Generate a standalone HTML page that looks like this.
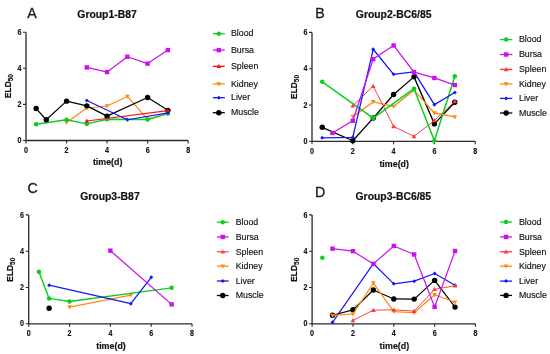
<!DOCTYPE html>
<html><head><meta charset="utf-8"><style>
html,body{margin:0;padding:0;background:#fff;}
body{width:550px;height:354px;overflow:hidden;}
svg{display:block;will-change:transform;}
text{font-family:"Liberation Sans",sans-serif;}
.tk{font-size:8.3px;font-weight:bold;fill:#111;stroke:#111;stroke-width:0.15px;}
.xl{font-size:8.9px;font-weight:bold;fill:#111;stroke:#111;stroke-width:0.15px;}
.yl{font-size:8.4px;font-weight:bold;fill:#111;stroke:#111;stroke-width:0.15px;}
.sub{font-size:6.6px;}
.let{font-size:14.2px;fill:#1a1a1a;stroke:#1a1a1a;stroke-width:0.3px;}
.tt{font-size:10.4px;font-weight:bold;fill:#111;stroke:#111;stroke-width:0.2px;}
.lg{font-size:8.8px;fill:#111;stroke:#111;stroke-width:0.15px;}
</style></head><body>
<svg width="550" height="354" viewBox="0 0 550 354">
<rect width="550" height="354" fill="#fff"/>
<g>
<path d="M26 32.2V140.5H188.16" fill="none" stroke="#2a2a2a" stroke-width="1.3"/>
<path d="M23 140.5H26M23 104.4H26M23 68.3H26M23 32.2H26M26 140.5V143.5M66.54 140.5V143.5M107.08 140.5V143.5M147.62 140.5V143.5M188.16 140.5V143.5" stroke="#2a2a2a" stroke-width="1.1"/>
<text transform="translate(21.4 143.1) scale(0.86 1)" class="tk" text-anchor="end">0</text>
<text transform="translate(21.4 107) scale(0.86 1)" class="tk" text-anchor="end">2</text>
<text transform="translate(21.4 70.9) scale(0.86 1)" class="tk" text-anchor="end">4</text>
<text transform="translate(21.4 34.8) scale(0.86 1)" class="tk" text-anchor="end">6</text>
<text transform="translate(26 152.7) scale(0.86 1)" class="tk" text-anchor="middle">0</text>
<text transform="translate(66.54 152.7) scale(0.86 1)" class="tk" text-anchor="middle">2</text>
<text transform="translate(107.08 152.7) scale(0.86 1)" class="tk" text-anchor="middle">4</text>
<text transform="translate(147.62 152.7) scale(0.86 1)" class="tk" text-anchor="middle">6</text>
<text transform="translate(188.16 152.7) scale(0.86 1)" class="tk" text-anchor="middle">8</text>
<text x="107.68" y="165.3" class="xl" text-anchor="middle">time(d)</text>
<text transform="translate(11 86) rotate(-90)" class="yl" text-anchor="middle">ELD<tspan class="sub" dy="2.2">50</tspan></text>
<text x="27.2" y="18.2" class="let">A</text>
<text x="77.3" y="18" class="tt">Group1-B87</text>
<path d="M66.54 122.45L86.81 108.01L107.08 106.02L127.35 96.46L147.62 119.38L167.89 113.42" fill="none" stroke="#ff8a10" stroke-width="1.2" stroke-linejoin="round"/>
<path d="M66.54 124.85L68.94 120.65L64.14 120.65Z" fill="#ff8a10"/>
<path d="M86.81 110.41L89.21 106.21L84.41 106.21Z" fill="#ff8a10"/>
<path d="M107.08 108.42L109.48 104.22L104.68 104.22Z" fill="#ff8a10"/>
<path d="M127.35 98.86L129.75 94.66L124.95 94.66Z" fill="#ff8a10"/>
<path d="M147.62 121.78L150.02 117.58L145.22 117.58Z" fill="#ff8a10"/>
<path d="M167.89 115.83L170.29 111.62L165.49 111.62Z" fill="#ff8a10"/>
<path d="M36.13 124.25L66.54 119.74L86.81 123.89L107.08 119.2L147.62 119.56L167.89 113.61" fill="none" stroke="#10cc20" stroke-width="1.45" stroke-linejoin="round"/>
<circle cx="36.13" cy="124.25" r="2.25" fill="#10cc20"/>
<circle cx="66.54" cy="119.74" r="2.25" fill="#10cc20"/>
<circle cx="86.81" cy="123.89" r="2.25" fill="#10cc20"/>
<circle cx="107.08" cy="119.2" r="2.25" fill="#10cc20"/>
<circle cx="147.62" cy="119.56" r="2.25" fill="#10cc20"/>
<circle cx="167.89" cy="113.61" r="2.25" fill="#10cc20"/>
<path d="M36.13 108.55L46.27 119.74L66.54 101.15L86.81 105.84L107.08 116.13L147.62 97.54L167.89 110.36" fill="none" stroke="#000000" stroke-width="1.2" stroke-linejoin="round"/>
<circle cx="36.13" cy="108.55" r="2.7" fill="#000000"/>
<circle cx="46.27" cy="119.74" r="2.7" fill="#000000"/>
<circle cx="66.54" cy="101.15" r="2.7" fill="#000000"/>
<circle cx="86.81" cy="105.84" r="2.7" fill="#000000"/>
<circle cx="107.08" cy="116.13" r="2.7" fill="#000000"/>
<circle cx="147.62" cy="97.54" r="2.7" fill="#000000"/>
<circle cx="167.89" cy="110.36" r="2.7" fill="#000000"/>
<path d="M86.81 121.01L167.89 110.72" fill="none" stroke="#ff1010" stroke-width="1.2" stroke-linejoin="round"/>
<path d="M86.81 118.61L89.21 122.81L84.41 122.81Z" fill="#ff1010"/>
<path d="M167.89 108.32L170.29 112.52L165.49 112.52Z" fill="#ff1010"/>
<path d="M86.81 100.43L127.35 119.74L167.89 112.88" fill="none" stroke="#1818f0" stroke-width="1.2" stroke-linejoin="round"/>
<path d="M86.81 98.43L88.81 100.43L86.81 102.43L84.81 100.43Z" fill="#1818f0"/>
<path d="M127.35 117.74L129.35 119.74L127.35 121.74L125.35 119.74Z" fill="#1818f0"/>
<path d="M167.89 110.88L169.89 112.88L167.89 114.88L165.89 112.88Z" fill="#1818f0"/>
<path d="M86.81 67.4L107.08 72.09L127.35 56.75L147.62 63.61L167.89 50.07" fill="none" stroke="#cc10ee" stroke-width="1.2" stroke-linejoin="round"/>
<rect x="84.61" y="65.2" width="4.4" height="4.4" fill="#cc10ee"/>
<rect x="104.88" y="69.89" width="4.4" height="4.4" fill="#cc10ee"/>
<rect x="125.15" y="54.55" width="4.4" height="4.4" fill="#cc10ee"/>
<rect x="145.42" y="61.41" width="4.4" height="4.4" fill="#cc10ee"/>
<rect x="165.69" y="47.87" width="4.4" height="4.4" fill="#cc10ee"/>
<path d="M212.8 33.75H224.8" stroke="#10cc20" stroke-width="1.3"/>
<circle cx="218.8" cy="33.75" r="2.25" fill="#10cc20"/>
<text x="231" y="36.45" class="lg">Blood</text>
<path d="M212.8 50.1H224.8" stroke="#cc10ee" stroke-width="1.3"/>
<rect x="216.6" y="47.9" width="4.4" height="4.4" fill="#cc10ee"/>
<text x="231" y="52.8" class="lg">Bursa</text>
<path d="M212.8 66.3H224.8" stroke="#ff1010" stroke-width="1.3"/>
<path d="M218.8 63.9L221.2 68.1L216.4 68.1Z" fill="#ff1010"/>
<text x="231" y="69" class="lg">Spleen</text>
<path d="M212.8 84H224.8" stroke="#ff8a10" stroke-width="1.3"/>
<path d="M218.8 86.4L221.2 82.2L216.4 82.2Z" fill="#ff8a10"/>
<text x="231" y="86.7" class="lg">Kidney</text>
<path d="M212.8 97.7H224.8" stroke="#1818f0" stroke-width="1.3"/>
<path d="M218.8 95.7L220.8 97.7L218.8 99.7L216.8 97.7Z" fill="#1818f0"/>
<text x="231" y="100.4" class="lg">Liver</text>
<path d="M212.8 112.7H224.8" stroke="#000000" stroke-width="1.3"/>
<circle cx="218.8" cy="112.7" r="2.7" fill="#000000"/>
<text x="231" y="115.4" class="lg">Muscle</text>
<path d="M312 32.4V141.3H475.2" fill="none" stroke="#2a2a2a" stroke-width="1.3"/>
<path d="M309 141.3H312M309 105H312M309 68.7H312M309 32.4H312M312 141.3V144.3M352.8 141.3V144.3M393.6 141.3V144.3M434.4 141.3V144.3M475.2 141.3V144.3" stroke="#2a2a2a" stroke-width="1.1"/>
<text transform="translate(307.4 143.9) scale(0.86 1)" class="tk" text-anchor="end">0</text>
<text transform="translate(307.4 107.6) scale(0.86 1)" class="tk" text-anchor="end">2</text>
<text transform="translate(307.4 71.3) scale(0.86 1)" class="tk" text-anchor="end">4</text>
<text transform="translate(307.4 35) scale(0.86 1)" class="tk" text-anchor="end">6</text>
<text transform="translate(312 153.5) scale(0.86 1)" class="tk" text-anchor="middle">0</text>
<text transform="translate(352.8 153.5) scale(0.86 1)" class="tk" text-anchor="middle">2</text>
<text transform="translate(393.6 153.5) scale(0.86 1)" class="tk" text-anchor="middle">4</text>
<text transform="translate(434.4 153.5) scale(0.86 1)" class="tk" text-anchor="middle">6</text>
<text transform="translate(475.2 153.5) scale(0.86 1)" class="tk" text-anchor="middle">8</text>
<text x="394.2" y="166.7" class="xl" text-anchor="middle">time(d)</text>
<text transform="translate(296.9 86.9) rotate(-90)" class="yl" text-anchor="middle">ELD<tspan class="sub" dy="2.2">50</tspan></text>
<text x="315.2" y="18" class="let">B</text>
<text x="355.8" y="17.8" class="tt">Group2-BC6/85</text>
<path d="M322.2 127.32L352.8 140.76L373.2 118.07L393.6 94.47L414 76.87L434.4 123.88L454.8 102.28" fill="none" stroke="#000000" stroke-width="1.3" stroke-linejoin="round"/>
<circle cx="322.2" cy="127.32" r="2.7" fill="#000000"/>
<circle cx="352.8" cy="140.76" r="2.7" fill="#000000"/>
<circle cx="373.2" cy="118.07" r="2.7" fill="#000000"/>
<circle cx="393.6" cy="94.47" r="2.7" fill="#000000"/>
<circle cx="414" cy="76.87" r="2.7" fill="#000000"/>
<circle cx="434.4" cy="123.88" r="2.7" fill="#000000"/>
<circle cx="454.8" cy="102.28" r="2.7" fill="#000000"/>
<path d="M352.8 116.62L373.2 101.91L393.6 106.45L414 90.12L434.4 112.99L454.8 116.98" fill="none" stroke="#ff8a10" stroke-width="1.3" stroke-linejoin="round"/>
<path d="M352.8 119.02L355.2 114.82L350.4 114.82Z" fill="#ff8a10"/>
<path d="M373.2 104.31L375.6 100.11L370.8 100.11Z" fill="#ff8a10"/>
<path d="M393.6 108.85L396 104.65L391.2 104.65Z" fill="#ff8a10"/>
<path d="M414 92.52L416.4 88.32L411.6 88.32Z" fill="#ff8a10"/>
<path d="M434.4 115.39L436.8 111.19L432 111.19Z" fill="#ff8a10"/>
<path d="M454.8 119.38L457.2 115.18L452.4 115.18Z" fill="#ff8a10"/>
<path d="M352.8 105.73L373.2 86.12L393.6 126.42L414 136.4L434.4 120.43L454.8 101.37" fill="none" stroke="#ff3838" stroke-width="0.95" stroke-linejoin="round"/>
<path d="M352.8 103.33L355.2 107.53L350.4 107.53Z" fill="#ff3838"/>
<path d="M373.2 83.72L375.6 87.92L370.8 87.92Z" fill="#ff3838"/>
<path d="M393.6 124.02L396 128.22L391.2 128.22Z" fill="#ff3838"/>
<path d="M414 134L416.4 138.2L411.6 138.2Z" fill="#ff3838"/>
<path d="M434.4 118.03L436.8 122.23L432 122.23Z" fill="#ff3838"/>
<path d="M454.8 98.97L457.2 103.17L452.4 103.17Z" fill="#ff3838"/>
<path d="M322.2 81.77L373.2 118.07L414 88.67L434.4 140.76L454.8 76.32" fill="none" stroke="#10cc20" stroke-width="1.5" stroke-linejoin="round"/>
<circle cx="322.2" cy="81.77" r="2.25" fill="#10cc20"/>
<circle cx="373.2" cy="118.07" r="2.25" fill="#10cc20"/>
<circle cx="414" cy="88.67" r="2.25" fill="#10cc20"/>
<circle cx="434.4" cy="140.76" r="2.25" fill="#10cc20"/>
<circle cx="454.8" cy="76.32" r="2.25" fill="#10cc20"/>
<path d="M322.2 137.85L352.8 137.31L373.2 49.28L393.6 74.33L414 71.79L434.4 104.64L454.8 92.48" fill="none" stroke="#1818f0" stroke-width="1.3" stroke-linejoin="round"/>
<path d="M322.2 135.85L324.2 137.85L322.2 139.85L320.2 137.85Z" fill="#1818f0"/>
<path d="M352.8 135.31L354.8 137.31L352.8 139.31L350.8 137.31Z" fill="#1818f0"/>
<path d="M373.2 47.28L375.2 49.28L373.2 51.28L371.2 49.28Z" fill="#1818f0"/>
<path d="M393.6 72.33L395.6 74.33L393.6 76.33L391.6 74.33Z" fill="#1818f0"/>
<path d="M414 69.79L416 71.79L414 73.79L412 71.79Z" fill="#1818f0"/>
<path d="M434.4 102.64L436.4 104.64L434.4 106.64L432.4 104.64Z" fill="#1818f0"/>
<path d="M454.8 90.48L456.8 92.48L454.8 94.48L452.8 92.48Z" fill="#1818f0"/>
<path d="M332.4 132.95L352.8 120.79L373.2 59.08L393.6 45.47L414 72.15L434.4 77.96L454.8 85.04" fill="none" stroke="#cc10ee" stroke-width="1.3" stroke-linejoin="round"/>
<rect x="330.2" y="130.75" width="4.4" height="4.4" fill="#cc10ee"/>
<rect x="350.6" y="118.59" width="4.4" height="4.4" fill="#cc10ee"/>
<rect x="371" y="56.88" width="4.4" height="4.4" fill="#cc10ee"/>
<rect x="391.4" y="43.27" width="4.4" height="4.4" fill="#cc10ee"/>
<rect x="411.8" y="69.95" width="4.4" height="4.4" fill="#cc10ee"/>
<rect x="432.2" y="75.76" width="4.4" height="4.4" fill="#cc10ee"/>
<rect x="452.6" y="82.84" width="4.4" height="4.4" fill="#cc10ee"/>
<path d="M500 39.6H512.3" stroke="#10cc20" stroke-width="1.3"/>
<circle cx="506.15" cy="39.6" r="2.25" fill="#10cc20"/>
<text x="519" y="42.3" class="lg">Blood</text>
<path d="M500 54.5H512.3" stroke="#cc10ee" stroke-width="1.3"/>
<rect x="503.95" y="52.3" width="4.4" height="4.4" fill="#cc10ee"/>
<text x="519" y="57.2" class="lg">Bursa</text>
<path d="M500 69.4H512.3" stroke="#ff3838" stroke-width="1.3"/>
<path d="M506.15 67L508.55 71.2L503.75 71.2Z" fill="#ff3838"/>
<text x="519" y="72.1" class="lg">Spleen</text>
<path d="M500 84H512.3" stroke="#ff8a10" stroke-width="1.3"/>
<path d="M506.15 86.4L508.55 82.2L503.75 82.2Z" fill="#ff8a10"/>
<text x="519" y="86.7" class="lg">Kidney</text>
<path d="M500 98.4H512.3" stroke="#1818f0" stroke-width="1.3"/>
<path d="M506.15 96.4L508.15 98.4L506.15 100.4L504.15 98.4Z" fill="#1818f0"/>
<text x="519" y="101.1" class="lg">Liver</text>
<path d="M500 113H512.3" stroke="#000000" stroke-width="1.3"/>
<circle cx="506.15" cy="113" r="2.7" fill="#000000"/>
<text x="519" y="115.7" class="lg">Muscle</text>
<path d="M28.7 214.9V323.8H192.06" fill="none" stroke="#2a2a2a" stroke-width="1.3"/>
<path d="M25.7 323.8H28.7M25.7 287.5H28.7M25.7 251.2H28.7M25.7 214.9H28.7M28.7 323.8V326.8M69.54 323.8V326.8M110.38 323.8V326.8M151.22 323.8V326.8M192.06 323.8V326.8" stroke="#2a2a2a" stroke-width="1.1"/>
<text transform="translate(24.1 326.4) scale(0.86 1)" class="tk" text-anchor="end">0</text>
<text transform="translate(24.1 290.1) scale(0.86 1)" class="tk" text-anchor="end">2</text>
<text transform="translate(24.1 253.8) scale(0.86 1)" class="tk" text-anchor="end">4</text>
<text transform="translate(24.1 217.5) scale(0.86 1)" class="tk" text-anchor="end">6</text>
<text transform="translate(28.7 336) scale(0.86 1)" class="tk" text-anchor="middle">0</text>
<text transform="translate(69.54 336) scale(0.86 1)" class="tk" text-anchor="middle">2</text>
<text transform="translate(110.38 336) scale(0.86 1)" class="tk" text-anchor="middle">4</text>
<text transform="translate(151.22 336) scale(0.86 1)" class="tk" text-anchor="middle">6</text>
<text transform="translate(192.06 336) scale(0.86 1)" class="tk" text-anchor="middle">8</text>
<text x="110.98" y="348.9" class="xl" text-anchor="middle">time(d)</text>
<text transform="translate(13.1 269.6) rotate(-90)" class="yl" text-anchor="middle">ELD<tspan class="sub" dy="2.2">50</tspan></text>
<text x="27.4" y="193.2" class="let">C</text>
<text x="80.2" y="200.4" class="tt">Group3-B87</text>
<circle cx="49.12" cy="308.19" r="2.7" fill="#000000"/>
<path d="M69.54 307.1L130.8 295.12" fill="none" stroke="#ff8a10" stroke-width="1.3" stroke-linejoin="round"/>
<path d="M69.54 309.5L71.94 305.3L67.14 305.3Z" fill="#ff8a10"/>
<path d="M130.8 297.52L133.2 293.32L128.4 293.32Z" fill="#ff8a10"/>
<path d="M38.91 271.71L49.12 298.39L69.54 301.48L171.64 287.86" fill="none" stroke="#10cc20" stroke-width="1.45" stroke-linejoin="round"/>
<circle cx="38.91" cy="271.71" r="2.25" fill="#10cc20"/>
<circle cx="49.12" cy="298.39" r="2.25" fill="#10cc20"/>
<circle cx="69.54" cy="301.48" r="2.25" fill="#10cc20"/>
<circle cx="171.64" cy="287.86" r="2.25" fill="#10cc20"/>
<path d="M49.12 285.14L130.8 303.65L151.22 277.34" fill="none" stroke="#1818f0" stroke-width="1.3" stroke-linejoin="round"/>
<path d="M49.12 283.14L51.12 285.14L49.12 287.14L47.12 285.14Z" fill="#1818f0"/>
<path d="M130.8 301.65L132.8 303.65L130.8 305.65L128.8 303.65Z" fill="#1818f0"/>
<path d="M151.22 275.34L153.22 277.34L151.22 279.34L149.22 277.34Z" fill="#1818f0"/>
<path d="M110.38 250.66L171.64 304.38" fill="none" stroke="#cc10ee" stroke-width="1.3" stroke-linejoin="round"/>
<rect x="108.18" y="248.46" width="4.4" height="4.4" fill="#cc10ee"/>
<rect x="169.44" y="302.18" width="4.4" height="4.4" fill="#cc10ee"/>
<path d="M216.9 222.2H228.6" stroke="#10cc20" stroke-width="1.3"/>
<circle cx="222.75" cy="222.2" r="2.25" fill="#10cc20"/>
<text x="235.7" y="224.9" class="lg">Blood</text>
<path d="M216.9 236.9H228.6" stroke="#cc10ee" stroke-width="1.3"/>
<rect x="220.55" y="234.7" width="4.4" height="4.4" fill="#cc10ee"/>
<text x="235.7" y="239.6" class="lg">Bursa</text>
<path d="M216.9 251.8H228.6" stroke="#ff4848" stroke-width="1.3"/>
<path d="M222.75 249.4L225.15 253.6L220.35 253.6Z" fill="#ff4848"/>
<text x="235.7" y="254.5" class="lg">Spleen</text>
<path d="M216.9 266.2H228.6" stroke="#ff8a10" stroke-width="1.3"/>
<path d="M222.75 268.6L225.15 264.4L220.35 264.4Z" fill="#ff8a10"/>
<text x="235.7" y="268.9" class="lg">Kidney</text>
<path d="M216.9 281H228.6" stroke="#1818f0" stroke-width="1.3"/>
<path d="M222.75 279L224.75 281L222.75 283L220.75 281Z" fill="#1818f0"/>
<text x="235.7" y="283.7" class="lg">Liver</text>
<path d="M216.9 295.5H228.6" stroke="#000000" stroke-width="1.3"/>
<circle cx="222.75" cy="295.5" r="2.7" fill="#000000"/>
<text x="235.7" y="298.2" class="lg">Muscle</text>
<path d="M312.1 214.9V323.8H475.46" fill="none" stroke="#2a2a2a" stroke-width="1.3"/>
<path d="M309.1 323.8H312.1M309.1 287.5H312.1M309.1 251.2H312.1M309.1 214.9H312.1M312.1 323.8V326.8M352.94 323.8V326.8M393.78 323.8V326.8M434.62 323.8V326.8M475.46 323.8V326.8" stroke="#2a2a2a" stroke-width="1.1"/>
<text transform="translate(307.5 326.4) scale(0.86 1)" class="tk" text-anchor="end">0</text>
<text transform="translate(307.5 290.1) scale(0.86 1)" class="tk" text-anchor="end">2</text>
<text transform="translate(307.5 253.8) scale(0.86 1)" class="tk" text-anchor="end">4</text>
<text transform="translate(307.5 217.5) scale(0.86 1)" class="tk" text-anchor="end">6</text>
<text transform="translate(312.1 336) scale(0.86 1)" class="tk" text-anchor="middle">0</text>
<text transform="translate(352.94 336) scale(0.86 1)" class="tk" text-anchor="middle">2</text>
<text transform="translate(393.78 336) scale(0.86 1)" class="tk" text-anchor="middle">4</text>
<text transform="translate(434.62 336) scale(0.86 1)" class="tk" text-anchor="middle">6</text>
<text transform="translate(475.46 336) scale(0.86 1)" class="tk" text-anchor="middle">8</text>
<text x="394.38" y="348.9" class="xl" text-anchor="middle">time(d)</text>
<text transform="translate(297.1 269.7) rotate(-90)" class="yl" text-anchor="middle">ELD<tspan class="sub" dy="2.2">50</tspan></text>
<text x="315.1" y="197" class="let">D</text>
<text x="355.5" y="200.4" class="tt">Group3-BC6/85</text>
<path d="M332.52 322.35L373.36 263.54L393.78 283.87L414.2 281.15L434.62 273.52L455.04 285.32" fill="none" stroke="#1818f0" stroke-width="1.2" stroke-linejoin="round"/>
<path d="M332.52 320.35L334.52 322.35L332.52 324.35L330.52 322.35Z" fill="#1818f0"/>
<path d="M373.36 261.54L375.36 263.54L373.36 265.54L371.36 263.54Z" fill="#1818f0"/>
<path d="M393.78 281.87L395.78 283.87L393.78 285.87L391.78 283.87Z" fill="#1818f0"/>
<path d="M414.2 279.15L416.2 281.15L414.2 283.15L412.2 281.15Z" fill="#1818f0"/>
<path d="M434.62 271.52L436.62 273.52L434.62 275.52L432.62 273.52Z" fill="#1818f0"/>
<path d="M455.04 283.32L457.04 285.32L455.04 287.32L453.04 285.32Z" fill="#1818f0"/>
<path d="M332.52 315.27L352.94 309.82L373.36 290.04L393.78 298.93L414.2 299.12L434.62 280.42L455.04 307.1" fill="none" stroke="#000000" stroke-width="1.2" stroke-linejoin="round"/>
<circle cx="332.52" cy="315.27" r="2.7" fill="#000000"/>
<circle cx="352.94" cy="309.82" r="2.7" fill="#000000"/>
<circle cx="373.36" cy="290.04" r="2.7" fill="#000000"/>
<circle cx="393.78" cy="298.93" r="2.7" fill="#000000"/>
<circle cx="414.2" cy="299.12" r="2.7" fill="#000000"/>
<circle cx="434.62" cy="280.42" r="2.7" fill="#000000"/>
<circle cx="455.04" cy="307.1" r="2.7" fill="#000000"/>
<path d="M332.52 315.45L352.94 314L373.36 283.14L393.78 311.64L414.2 312.73L434.62 294.76L455.04 302.2" fill="none" stroke="#ff8a10" stroke-width="1.2" stroke-linejoin="round"/>
<path d="M332.52 317.85L334.92 313.65L330.12 313.65Z" fill="#ff8a10"/>
<path d="M352.94 316.4L355.34 312.2L350.54 312.2Z" fill="#ff8a10"/>
<path d="M373.36 285.54L375.76 281.34L370.96 281.34Z" fill="#ff8a10"/>
<path d="M393.78 314.04L396.18 309.84L391.38 309.84Z" fill="#ff8a10"/>
<path d="M414.2 315.13L416.6 310.93L411.8 310.93Z" fill="#ff8a10"/>
<path d="M434.62 297.16L437.02 292.96L432.22 292.96Z" fill="#ff8a10"/>
<path d="M455.04 304.6L457.44 300.4L452.64 300.4Z" fill="#ff8a10"/>
<circle cx="322.31" cy="257.73" r="2.25" fill="#10cc20"/>
<path d="M352.94 320.35L373.36 310.19L393.78 309.82L414.2 311.1L434.62 289.31L455.04 285.69" fill="none" stroke="#ff3838" stroke-width="0.95" stroke-linejoin="round"/>
<path d="M352.94 317.95L355.34 322.15L350.54 322.15Z" fill="#ff3838"/>
<path d="M373.36 307.79L375.76 311.99L370.96 311.99Z" fill="#ff3838"/>
<path d="M393.78 307.42L396.18 311.62L391.38 311.62Z" fill="#ff3838"/>
<path d="M414.2 308.7L416.6 312.9L411.8 312.9Z" fill="#ff3838"/>
<path d="M434.62 286.92L437.02 291.12L432.22 291.12Z" fill="#ff3838"/>
<path d="M455.04 283.29L457.44 287.49L452.64 287.49Z" fill="#ff3838"/>
<path d="M332.52 248.66L352.94 251.2L373.36 263.91L393.78 245.94L414.2 254.47L434.62 306.92L455.04 251.02" fill="none" stroke="#cc10ee" stroke-width="1.2" stroke-linejoin="round"/>
<rect x="330.32" y="246.46" width="4.4" height="4.4" fill="#cc10ee"/>
<rect x="350.74" y="249" width="4.4" height="4.4" fill="#cc10ee"/>
<rect x="371.16" y="261.71" width="4.4" height="4.4" fill="#cc10ee"/>
<rect x="391.58" y="243.74" width="4.4" height="4.4" fill="#cc10ee"/>
<rect x="412" y="252.27" width="4.4" height="4.4" fill="#cc10ee"/>
<rect x="432.42" y="304.72" width="4.4" height="4.4" fill="#cc10ee"/>
<rect x="452.84" y="248.82" width="4.4" height="4.4" fill="#cc10ee"/>
<path d="M500.1 222.1H512" stroke="#10cc20" stroke-width="1.3"/>
<circle cx="506.05" cy="222.1" r="2.25" fill="#10cc20"/>
<text x="519" y="224.8" class="lg">Blood</text>
<path d="M500.1 236.9H512" stroke="#cc10ee" stroke-width="1.3"/>
<rect x="503.85" y="234.7" width="4.4" height="4.4" fill="#cc10ee"/>
<text x="519" y="239.6" class="lg">Bursa</text>
<path d="M500.1 251.8H512" stroke="#ff3838" stroke-width="1.3"/>
<path d="M506.05 249.4L508.45 253.6L503.65 253.6Z" fill="#ff3838"/>
<text x="519" y="254.5" class="lg">Spleen</text>
<path d="M500.1 266.2H512" stroke="#ff8a10" stroke-width="1.3"/>
<path d="M506.05 268.6L508.45 264.4L503.65 264.4Z" fill="#ff8a10"/>
<text x="519" y="268.9" class="lg">Kidney</text>
<path d="M500.1 281.1H512" stroke="#1818f0" stroke-width="1.3"/>
<path d="M506.05 279.1L508.05 281.1L506.05 283.1L504.05 281.1Z" fill="#1818f0"/>
<text x="519" y="283.8" class="lg">Liver</text>
<path d="M500.1 295.4H512" stroke="#000000" stroke-width="1.3"/>
<circle cx="506.05" cy="295.4" r="2.7" fill="#000000"/>
<text x="519" y="298.1" class="lg">Muscle</text>
</g>
</svg>
</body></html>
